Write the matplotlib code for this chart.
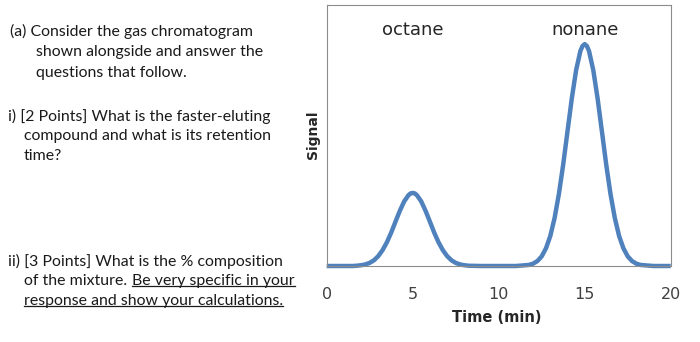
import matplotlib
matplotlib.use("Agg")
import matplotlib.pyplot as plt
from matplotlib.lines import Line2D

# chromatogram (time in min, signal in relative units)
time_min = [0, 1, 1.5,
            1.75, 2, 2.25, 2.5, 2.75, 3, 3.25, 3.5, 3.75, 4, 4.25, 4.5, 4.75, 4.875,
            5, 5.125, 5.25, 5.5, 5.75, 6, 6.25, 6.5, 6.75, 7, 7.25, 7.5, 7.75, 8, 8.25,
            9, 10, 11,
            11.75, 12, 12.25, 12.5, 12.75, 13, 13.25, 13.5, 13.75, 14, 14.25, 14.5, 14.75, 14.875,
            15, 15.125, 15.25, 15.5, 15.75, 16, 16.25, 16.5, 16.75, 17, 17.25, 17.5, 17.75, 18, 18.25,
            19, 20]
signal = [0, 0, 0,
          0.001, 0.003, 0.006, 0.012, 0.022, 0.038, 0.061, 0.091, 0.128, 0.170, 0.211, 0.247, 0.271, 0.278,
          0.280, 0.278, 0.271, 0.247, 0.211, 0.170, 0.128, 0.091, 0.061, 0.038, 0.022, 0.012, 0.006, 0.003, 0.001,
          0, 0, 0,
          0.004, 0.009, 0.019, 0.037, 0.068, 0.115, 0.184, 0.276, 0.389, 0.516, 0.642, 0.750, 0.824, 0.843,
          0.850, 0.843, 0.824, 0.750, 0.642, 0.516, 0.389, 0.276, 0.184, 0.115, 0.068, 0.037, 0.019, 0.009, 0.004,
          0, 0]

peak_names = ["octane", "nonane"]
peak_times = [5, 15]
xticks = [0, 5, 10, 15, 20]

W, H = 700, 342
fig = plt.figure(figsize=(7, 3.42), dpi=100)
ax = fig.add_axes([326.7 / W, 1 - 266 / H, 344 / W, 261 / H])

ax.plot(time_min, signal, color="#4F81BD", lw=3.2, clip_on=False,
        solid_capstyle="butt", solid_joinstyle="round")
ax.set_xlim(0, 20)
ax.set_ylim(0, 1)
ax.set_yticks([])
ax.set_xticks(xticks)
ax.set_xticklabels([str(t) for t in xticks], fontsize=11.5, color="#404040")
ax.tick_params(length=0, pad=15)
for s in ax.spines.values():
    s.set_color("#8c8c8c")
    s.set_linewidth(0.8)

for name, t in zip(peak_names, peak_times):
    ax.text(t, 0.905, name, ha="center", va="center", fontsize=13, color="#262626")

fig.text(497 / W, 1 - 318 / H, "Time (min)", ha="center", va="center",
         fontsize=10.5, fontweight="bold", color="#262626")
fig.text(313 / W, 1 - 135 / H, "Signal", ha="center", va="center", rotation=90,
         fontsize=10, fontweight="bold", color="#262626")

# question text on the left
font = dict(family="Lato", fontsize=11.4, color="#1a1a1a", va="center", ha="left")
lines = [
    (10, 31, "(a) Consider the gas chromatogram"),
    (36, 52, "shown alongside and answer the"),
    (36, 73, "questions that follow."),
    (8, 116, "i) [2 Points] What is the faster-eluting"),
    (24, 136, "compound and what is its retention"),
    (24, 156, "time?"),
    (8, 261, "ii) [3 Points] What is the % composition"),
]
for x, y, s in lines:
    fig.text(x / W, 1 - y / H, s, **font)

first = fig.text(24 / W, 1 - 281 / H, "of the mixture.", **font)
fig.canvas.draw()
r = fig.canvas.get_renderer()
x_be = first.get_window_extent(r).x1 + 5

underlined = [
    (x_be, 281, "Be very specific in your"),
    (24, 301, "response and show your calculations."),
]
ul = []
for x, y, s in underlined:
    ul.append(fig.text(x / W, 1 - y / H, s, **font))

fig.canvas.draw()
for t in ul:
    bb = t.get_window_extent(r)
    yy = bb.y0 + 2
    fig.add_artist(Line2D([bb.x0 / W, bb.x1 / W], [yy / H, yy / H],
                          transform=fig.transFigure, color="#1a1a1a", lw=0.9))

fig.savefig("out.png", dpi=100)
